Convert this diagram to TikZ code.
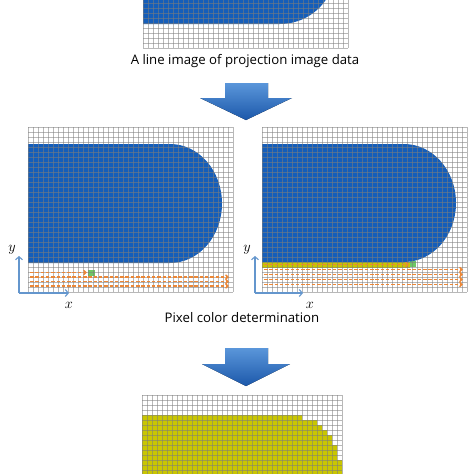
\documentclass[tikz,border=0pt]{standalone}
\usepackage{fontspec}
\setmainfont{Open Sans}
\usetikzlibrary{arrows.meta}
\definecolor{shapeblue}{RGB}{21,94,186}
\definecolor{gridgray}{RGB}{125,125,125}
\definecolor{orangeA}{RGB}{235,135,55}
\definecolor{yellowA}{RGB}{201,198,0}
\definecolor{greenA}{RGB}{110,200,100}
\definecolor{axisblue}{RGB}{100,150,205}
\definecolor{arrowtop}{RGB}{90,150,218}
\definecolor{arrowbot}{RGB}{28,88,170}
\begin{document}
\begin{tikzpicture}[x=1pt,y=-1pt,
  gridline/.style={draw=gridgray, line width=0.35pt, opacity=0.55},
  scanrow/.style={draw=orangeA, line width=1.3pt, dash pattern=on 3.5pt off 1.8pt,
    -{Straight Barb[length=2.5pt,width=4.5pt]}},
  axisline/.style={draw=axisblue, line width=1.1pt, -{Straight Barb[length=3pt,width=7pt]}},
  axislabel/.style={font=\fontsize{14}{14}\selectfont, inner sep=0pt},
  caption/.style={font=\fontsize{13.2}{15}\selectfont, inner sep=0pt},
  blockarrow/.style={top color=arrowtop, bottom color=arrowbot, draw=none},
  greencell/.style={fill=greenA, draw=none}]
\useasboundingbox (0,0) rectangle (474,474);
\clip (0,0) rectangle (474,474);

% ---------- top panel ----------
\fill[shapeblue] (143,-12) -- (143,24) -- (280,24)
  arc[start angle=90, end angle=15, x radius=55, y radius=54] -- (333,-12) -- cycle;
\foreach \x in {143,148,...,348} \draw[gridline] (\x,-1) -- (\x,48);
\foreach \y in {3,8,...,48} \draw[gridline] (143,\y) -- (348,\y);
\node[caption] (cap1) at (245,61) {A line image of projection image data};

% ---------- arrow 1 ----------
\fill[blockarrow] (225,83) -- (268,83) -- (268,98) -- (292,98) -- (246,120)
  -- (200,98) -- (225,98) -- cycle;

% ---------- middle left ----------
\fill[shapeblue] (28,144) -- (170,144)
  arc[start angle=-90, end angle=90, x radius=52, y radius=59.5] -- (28,263) -- cycle;
\fill[greencell] (88,269.5) rectangle (95,276);
\foreach \x in {28,33,...,233} \draw[gridline] (\x,127) -- (\x,292);
\foreach \y in {127,132,...,292} \draw[gridline] (28,\y) -- (233,\y);
\coordinate (l1s) at (30,272.5); \coordinate (l1e) at (87,272.5);
\draw[scanrow] (l1s) -- (l1e);
\foreach \r/\yy in {2/277,3/281.5,4/286} {
  \coordinate (ls\r) at (30,\yy); \coordinate (le\r) at (229,\yy);
  \draw[scanrow] (ls\r) -- (le\r);
}
\coordinate (lo) at (19,293);
\coordinate (ly) at (19,256);
\coordinate (lx) at (69,293);
\draw[axisline] (lo) -- (ly);
\draw[axisline] (lo) -- (lx);
\node[axislabel] (lylab) at (12,250) {$y$};
\node[axislabel] (lxlab) at (69,305) {$x$};

% ---------- middle right ----------
\fill[yellowA] (262,262) rectangle (410,267.5);
\fill[greencell] (410,261) rectangle (416,267);
\fill[shapeblue] (262,144) -- (404,144)
  arc[start angle=-90, end angle=90, x radius=52, y radius=59] -- (262,262) -- cycle;
\foreach \x in {262,267,...,467} \draw[gridline] (\x,127) -- (\x,292);
\foreach \y in {127,132,...,292} \draw[gridline] (262,\y) -- (467,\y);
\coordinate (r1s) at (264,264.5); \coordinate (r1e) at (409,264.5);
\draw[scanrow] (r1s) -- (r1e);
\foreach \r/\yy in {2/269.5,3/274.5,4/279.5,5/284.5} {
  \coordinate (rs\r) at (264,\yy); \coordinate (re\r) at (463,\yy);
  \draw[scanrow] (rs\r) -- (re\r);
}
\coordinate (ro) at (255,293);
\coordinate (ry) at (255,256);
\coordinate (rx) at (303,293);
\draw[axisline] (ro) -- (ry);
\draw[axisline] (ro) -- (rx);
\node[axislabel] (rylab) at (247,250) {$y$};
\node[axislabel] (rxlab) at (310,305) {$x$};

\node[caption] (cap2) at (242,318) {Pixel color determination};

% ---------- arrow 2 ----------
\fill[blockarrow] (225,348) -- (268,348) -- (268,364) -- (290,364) -- (246,386)
  -- (202,364) -- (225,364) -- cycle;

% ---------- bottom panel ----------
\fill[yellowA] (142,415) -- (302,415) -- (302,420) -- (317,420) -- (317,425)
  -- (322,425) -- (322,430) -- (327,430) -- (327,435) -- (332,435) -- (332,445)
  -- (337,445) -- (337,460) -- (342,460) -- (342,476) -- (142,476) -- cycle;
\foreach \x in {142,147,...,342} \draw[gridline] (\x,395) -- (\x,476);
\foreach \y in {395,400,...,475} \draw[gridline] (142,\y) -- (342,\y);
\end{tikzpicture}
\end{document}
